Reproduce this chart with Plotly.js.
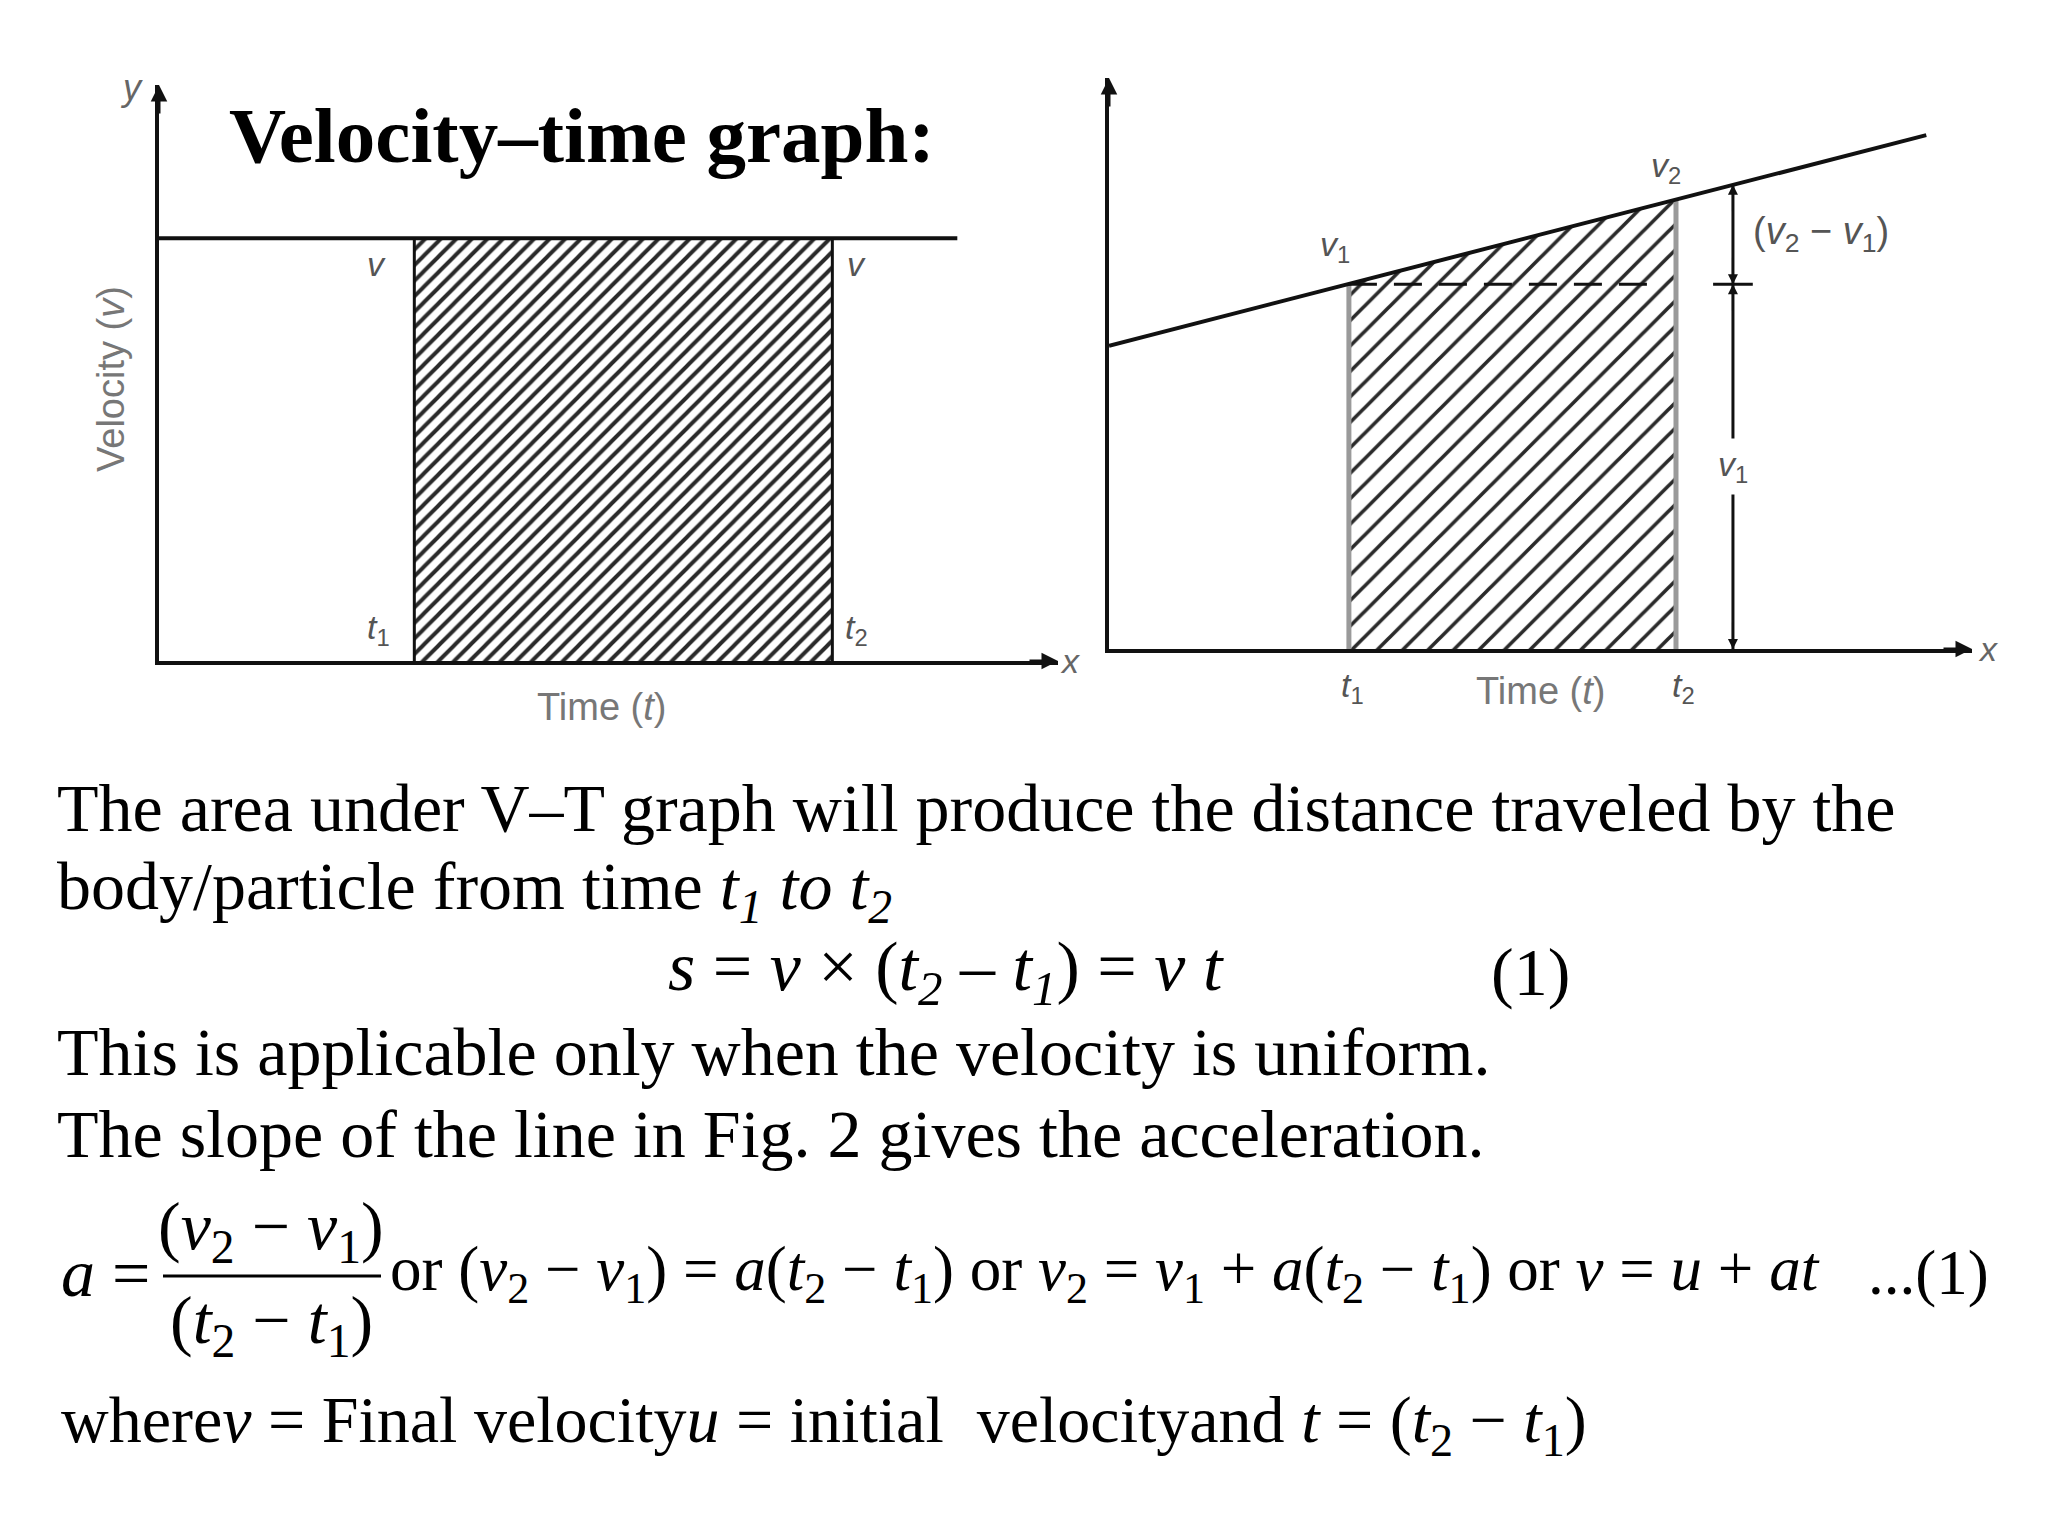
<!DOCTYPE html>
<html><head><meta charset="utf-8">
<script src="https://cdn.plot.ly/plotly-3.0.1.min.js"></script>
<style>html,body{margin:0;padding:0;background:#fff}</style>
</head><body><div id="chart" style="width:2048px;height:1536px"></div>
<script>
// ---------- Data: left graph (uniform velocity) ----------
const uniLineT = [0, 8.88];
const uniLineV = [7.34, 7.34];
const uniT1 = 2.84, uniT2 = 7.49, uniV = 7.34;

// ---------- Data: right graph (uniform acceleration) ----------
const accLineT = [0, 9.47];
const accLineV = [5.31, 9.00];
const accT1 = 2.78, accT2 = 6.57;
const accV1 = 6.39, accV2 = 7.87;
const dimT = 7.23, dimTop = 8.13;
const dimTickT = [7.0, 7.46];
const dashEndT = 6.37;

const SERIF = "Liberation Serif, 'Times New Roman', serif";
const SANS = "Liberation Sans, Arial, sans-serif";
const W = 2048, H = 1536;
const px = v => v / W, py = v => 1 - v / H;

const traces = [
  {x:[uniT1,uniT1,uniT2,uniT2,uniT1], y:[0,uniV,uniV,0,0], xaxis:'x', yaxis:'y',
   mode:'lines', fill:'toself', line:{width:0}, fillcolor:'white',
   fillpattern:{shape:'/', size:11, solidity:0.36, fgcolor:'#2a2a2a', bgcolor:'white'}, hoverinfo:'skip'},
  {x:uniLineT, y:uniLineV, xaxis:'x', yaxis:'y', mode:'lines', line:{color:'#111', width:4}, hoverinfo:'skip'},
  {x:[uniT1,uniT1,null,uniT2,uniT2], y:[0,uniV,null,0,uniV], xaxis:'x', yaxis:'y', mode:'lines',
   line:{color:'#111', width:3}, hoverinfo:'skip'},

  {x:[accT1,accT1,accT2,accT2,accT1], y:[0,accV1,accV2,0,0], xaxis:'x2', yaxis:'y2',
   mode:'lines', fill:'toself', line:{width:0}, fillcolor:'white',
   fillpattern:{shape:'/', size:18, solidity:0.2, fgcolor:'#2a2a2a', bgcolor:'white'}, hoverinfo:'skip'},
  {x:[accT1,accT1,null,accT2,accT2], y:[0,accV1,null,0,accV2], xaxis:'x2', yaxis:'y2', mode:'lines',
   line:{color:'#9a9a9a', width:5}, hoverinfo:'skip'},
  {x:accLineT, y:accLineV, xaxis:'x2', yaxis:'y2', mode:'lines', line:{color:'#111', width:4}, hoverinfo:'skip'},
  {x:[accT1, dashEndT], y:[accV1, accV1], xaxis:'x2', yaxis:'y2', mode:'lines',
   line:{color:'#111', width:3, dash:'28px,17px'}, hoverinfo:'skip'},
  {x:[dimT, dimT], y:[0, dimTop], xaxis:'x2', yaxis:'y2', mode:'lines', line:{color:'#111', width:3}, hoverinfo:'skip'},
  {x:dimTickT, y:[accV1, accV1], xaxis:'x2', yaxis:'y2', mode:'lines', line:{color:'#111', width:3}, hoverinfo:'skip'}
];

const axBase = {showgrid:false, zeroline:false, showticklabels:false, ticks:'', showline:true,
                linecolor:'#111', linewidth:4, range:[0,10], fixedrange:true};

const ann = [];
function arrow(xr, yr, x, y, ax, ay, w, s) {
  ann.push({xref:xr, yref:yr, x:x, y:y, ax:ax, ay:ay, text:'', showarrow:true,
            arrowhead:2, arrowsize:s||1, arrowwidth:w||3, arrowcolor:'#111'});
}
function lbl(xr, yr, x, y, text, opt) {
  ann.push(Object.assign({xref:xr, yref:yr, x:x, y:y, text:text, showarrow:false,
    xanchor:'center', yanchor:'middle',
    font:{family:SANS, size:34, color:'#555'}}, opt||{}));
}
function txt(x, y, text, opt) {
  ann.push(Object.assign({xref:'paper', yref:'paper', x:px(x), y:py(y), text:text, showarrow:false,
    xanchor:'left', yanchor:'middle', font:{family:SERIF, size:68, color:'#000'}}, opt||{}));
}

// axis arrowheads
arrow('x','y',10,0,-30,0,3,1.1);
arrow('x','y',0,10,0,30,3,1.1);
arrow('x2','y2',10,0,-30,0,3,1.1);
arrow('x2','y2',0,10,0,30,3,1.1);
// dimension arrows
arrow('x2','y2',dimT,dimTop,0,28,2,1);
arrow('x2','y2',dimT,accV1,0,-28,2,1);
arrow('x2','y2',dimT,accV1,0,28,2,1);
arrow('x2','y2',dimT,0,0,-28,2,1);

// left graph labels
lbl('paper','paper',px(131),py(88),'<i>y</i>',{font:{family:SANS,size:36,color:'#666'}});
lbl('paper','paper',px(111),py(379),'Velocity (<i>v</i>)',{textangle:-90,font:{family:SANS,size:38,color:'#777'}});
lbl('x','y',uniT1,uniV,'<i>v</i>',{xshift:-38,yshift:-26});
lbl('x','y',uniT2,uniV,'<i>v</i>',{xshift:24,yshift:-26});
lbl('x','y',uniT1,0,'<i>t</i><sub>1</sub>',{xshift:-36,yshift:32});
lbl('x','y',uniT2,0,'<i>t</i><sub>2</sub>',{xshift:24,yshift:32});
lbl('x','y',4.92,0,'Time (<i>t</i>)',{yshift:-46,font:{family:SANS,size:38,color:'#777'}});
lbl('x','y',10,0,'<i>x</i>',{xanchor:'left',xshift:0,font:{family:SANS,size:34,color:'#666'}});

// right graph labels
lbl('x2','y2',accT1,accV1,'<i>v</i><sub>1</sub>',{xshift:-14,yshift:38});
lbl('x2','y2',accT2,accV2,'<i>v</i><sub>2</sub>',{xshift:-10,yshift:32});
lbl('x2','y2',dimT,(dimTop+accV1)/2,'(<i>v</i><sub>2</sub> − <i>v</i><sub>1</sub>)',{xanchor:'left',xshift:18,font:{family:SANS,size:38,color:'#555'}});
lbl('x2','y2',dimT,accV1/2,'<i>v</i><sub>1</sub>',{bgcolor:'white',borderpad:6});
lbl('x2','y2',accT1,0,'<i>t</i><sub>1</sub>',{xshift:4,yshift:-38});
lbl('x2','y2',accT2,0,'<i>t</i><sub>2</sub>',{xshift:8,yshift:-38});
lbl('x2','y2',5.0,0,'Time (<i>t</i>)',{yshift:-42,font:{family:SANS,size:38,color:'#777'}});
lbl('x2','y2',10,0,'<i>x</i>',{xanchor:'left',xshift:4,font:{family:SANS,size:34,color:'#666'}});

// title
txt(227, 136, '<b>Velocity–time graph:</b>', {font:{family:SERIF,size:79,color:'#000'}});

// body text
txt(55, 808, 'The area under V–T graph will produce the distance traveled by the');
txt(55, 890, 'body/particle from time <i>t<sub>1</sub> to t<sub>2</sub></i>');
txt(666, 972, '<i>s</i> = <i>v</i> × (<i>t<sub>2</sub></i> – <i>t<sub>1</sub></i>) = <i>v t</i>', {font:{family:SERIF,size:70,color:'#000'}});
txt(1489, 972, '(1)');
txt(55, 1052, 'This is applicable only when the velocity is uniform.');
txt(55, 1134, 'The slope of the line in Fig. 2 gives the acceleration.');

// equation line
const NB = '\u00A0';
txt(59, 1273, '<i>a</i> =');
ann.push({xref:'paper', yref:'paper', x:px(271), y:py(1230), text:'(<i>v</i><sub>2</sub> − <i>v</i><sub>1</sub>)',
  showarrow:false, xanchor:'center', yanchor:'middle', font:{family:SERIF,size:68,color:'#000'}});
ann.push({xref:'paper', yref:'paper', x:px(271), y:py(1324), text:'(<i>t</i><sub>2</sub> − <i>t</i><sub>1</sub>)',
  showarrow:false, xanchor:'center', yanchor:'middle', font:{family:SERIF,size:68,color:'#000'}});
txt(388, 1273, 'or (<i>v</i><sub>2</sub> − <i>v</i><sub>1</sub>) = <i>a</i>(<i>t</i><sub>2</sub> − <i>t</i><sub>1</sub>) or <i>v</i><sub>2</sub> = <i>v</i><sub>1</sub> + <i>a</i>(<i>t</i><sub>2</sub> − <i>t</i><sub>1</sub>) or <i>v</i> = <i>u</i> + <i>at</i>', {font:{family:SERIF,size:63,color:'#000'}});
txt(1866, 1273, '...(1)', {font:{family:SERIF,size:63,color:'#000'}});
txt(59, 1424, 'where<i>v</i> = Final velocity<i>u</i> = initial' + NB + NB + 'velocityand <i>t</i> = (<i>t</i><sub>2</sub> − <i>t</i><sub>1</sub>)', {font:{family:SERIF,size:66,color:'#000'}});

const layout = {
  width: W, height: H, margin:{l:0,r:0,t:0,b:0}, paper_bgcolor:'white', plot_bgcolor:'rgba(0,0,0,0)',
  showlegend:false,
  xaxis: Object.assign({}, axBase, {domain:[159/W, 1058/W], anchor:'y'}),
  yaxis: Object.assign({}, axBase, {domain:[1-661/H, 1-85/H], anchor:'x'}),
  xaxis2: Object.assign({}, axBase, {domain:[1109/W, 1972/W], anchor:'y2'}),
  yaxis2: Object.assign({}, axBase, {domain:[1-649/H, 1-78/H], anchor:'x2'}),
  annotations: ann,
  shapes: [{type:'line', xref:'paper', yref:'paper', x0:px(163), x1:px(381), y0:py(1276), y1:py(1276),
            line:{color:'#000', width:3}}]
};

Plotly.newPlot('chart', traces, layout, {staticPlot:true, displayModeBar:false});
</script></body></html>
